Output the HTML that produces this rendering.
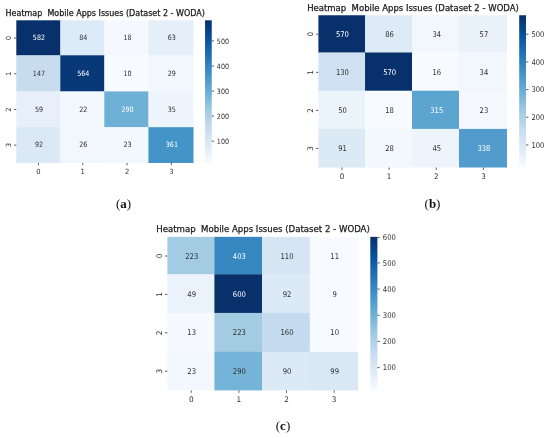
<!DOCTYPE html>
<html lang="en">
<head>
<meta charset="utf-8">
<title>Heatmap Mobile Apps Issues (Dataset 2 - WODA)</title>
<style>
html,body{margin:0;padding:0;background:#fff;}
#fig{position:relative;width:550px;height:438px;overflow:hidden;background:#fff;}
svg{position:absolute;left:0;top:0;}
svg text{font-family:"DejaVu Sans","Liberation Sans",sans-serif;fill:#2e2e2e;}
svg text.title{fill:#1a1a1a;stroke:#1a1a1a;stroke-width:0.25px;}
.tk{stroke:#2e2e2e;stroke-width:0.75;}
.cap{position:absolute;width:40px;height:16px;line-height:16px;text-align:center;font-family:"Liberation Serif","DejaVu Serif",serif;font-size:13px;color:#111;}
</style>
</head>
<body>
<div id="fig">
<svg width="550" height="438" viewBox="0 0 550 438">
<defs>
<linearGradient id="ga" x1="0" y1="0" x2="0" y2="1"><stop offset="0.00%" stop-color="#08306b"/><stop offset="4.17%" stop-color="#083a7a"/><stop offset="8.33%" stop-color="#08468b"/><stop offset="12.50%" stop-color="#08509b"/><stop offset="16.67%" stop-color="#105ba4"/><stop offset="20.83%" stop-color="#1966ad"/><stop offset="25.00%" stop-color="#2070b4"/><stop offset="29.17%" stop-color="#2c7cba"/><stop offset="33.33%" stop-color="#3787c0"/><stop offset="37.50%" stop-color="#4191c6"/><stop offset="41.67%" stop-color="#4f9bcb"/><stop offset="45.83%" stop-color="#5da5d1"/><stop offset="50.00%" stop-color="#6aaed6"/><stop offset="54.17%" stop-color="#7cb7da"/><stop offset="58.33%" stop-color="#8dc1dd"/><stop offset="62.50%" stop-color="#9dcae1"/><stop offset="66.67%" stop-color="#abd0e6"/><stop offset="70.83%" stop-color="#b9d6ea"/><stop offset="75.00%" stop-color="#c6dbef"/><stop offset="79.17%" stop-color="#cee0f2"/><stop offset="83.33%" stop-color="#d6e6f4"/><stop offset="87.50%" stop-color="#deebf7"/><stop offset="91.67%" stop-color="#e7f0fa"/><stop offset="95.83%" stop-color="#eff6fc"/><stop offset="100.00%" stop-color="#f7fbff"/></linearGradient>
<linearGradient id="gb" x1="0" y1="0" x2="0" y2="1"><stop offset="0.00%" stop-color="#08306b"/><stop offset="4.17%" stop-color="#083a7a"/><stop offset="8.33%" stop-color="#08468b"/><stop offset="12.50%" stop-color="#08509b"/><stop offset="16.67%" stop-color="#105ba4"/><stop offset="20.83%" stop-color="#1966ad"/><stop offset="25.00%" stop-color="#2070b4"/><stop offset="29.17%" stop-color="#2c7cba"/><stop offset="33.33%" stop-color="#3787c0"/><stop offset="37.50%" stop-color="#4191c6"/><stop offset="41.67%" stop-color="#4f9bcb"/><stop offset="45.83%" stop-color="#5da5d1"/><stop offset="50.00%" stop-color="#6aaed6"/><stop offset="54.17%" stop-color="#7cb7da"/><stop offset="58.33%" stop-color="#8dc1dd"/><stop offset="62.50%" stop-color="#9dcae1"/><stop offset="66.67%" stop-color="#abd0e6"/><stop offset="70.83%" stop-color="#b9d6ea"/><stop offset="75.00%" stop-color="#c6dbef"/><stop offset="79.17%" stop-color="#cee0f2"/><stop offset="83.33%" stop-color="#d6e6f4"/><stop offset="87.50%" stop-color="#deebf7"/><stop offset="91.67%" stop-color="#e7f0fa"/><stop offset="95.83%" stop-color="#eff6fc"/><stop offset="100.00%" stop-color="#f7fbff"/></linearGradient>
<linearGradient id="gc" x1="0" y1="0" x2="0" y2="1"><stop offset="0.00%" stop-color="#08306b"/><stop offset="4.17%" stop-color="#083a7a"/><stop offset="8.33%" stop-color="#08468b"/><stop offset="12.50%" stop-color="#08509b"/><stop offset="16.67%" stop-color="#105ba4"/><stop offset="20.83%" stop-color="#1966ad"/><stop offset="25.00%" stop-color="#2070b4"/><stop offset="29.17%" stop-color="#2c7cba"/><stop offset="33.33%" stop-color="#3787c0"/><stop offset="37.50%" stop-color="#4191c6"/><stop offset="41.67%" stop-color="#4f9bcb"/><stop offset="45.83%" stop-color="#5da5d1"/><stop offset="50.00%" stop-color="#6aaed6"/><stop offset="54.17%" stop-color="#7cb7da"/><stop offset="58.33%" stop-color="#8dc1dd"/><stop offset="62.50%" stop-color="#9dcae1"/><stop offset="66.67%" stop-color="#abd0e6"/><stop offset="70.83%" stop-color="#b9d6ea"/><stop offset="75.00%" stop-color="#c6dbef"/><stop offset="79.17%" stop-color="#cee0f2"/><stop offset="83.33%" stop-color="#d6e6f4"/><stop offset="87.50%" stop-color="#deebf7"/><stop offset="91.67%" stop-color="#e7f0fa"/><stop offset="95.83%" stop-color="#eff6fc"/><stop offset="100.00%" stop-color="#f7fbff"/></linearGradient>
</defs>
<g class="panel" id="panel-a">
<text class="title" transform="translate(105.20,16.40) scale(1.000,1)" font-size="8.00" text-anchor="middle" xml:space="preserve">Heatmap  Mobile Apps Issues (Dataset 2 - WODA)</text>
<rect x="16.30" y="20.30" width="44.30" height="35.30" fill="#08306b"/>
<rect x="60.30" y="20.30" width="44.30" height="35.30" fill="#ddeaf7"/>
<rect x="104.30" y="20.30" width="44.40" height="35.30" fill="#f5f9fe"/>
<rect x="148.40" y="20.30" width="45.10" height="35.30" fill="#e5eff9"/>
<rect x="16.30" y="55.30" width="44.30" height="36.40" fill="#c8dcf0"/>
<rect x="60.30" y="55.30" width="44.30" height="36.40" fill="#083877"/>
<rect x="104.30" y="55.30" width="44.40" height="36.40" fill="#f7fbff"/>
<rect x="148.40" y="55.30" width="45.10" height="36.40" fill="#f1f7fd"/>
<rect x="16.30" y="91.40" width="44.30" height="36.05" fill="#e7f0fa"/>
<rect x="60.30" y="91.40" width="44.30" height="36.05" fill="#f3f8fe"/>
<rect x="104.30" y="91.40" width="44.40" height="36.05" fill="#6fb0d7"/>
<rect x="148.40" y="91.40" width="45.10" height="36.05" fill="#eef5fc"/>
<rect x="16.30" y="127.15" width="44.30" height="35.85" fill="#dbe9f6"/>
<rect x="60.30" y="127.15" width="44.30" height="35.85" fill="#f2f7fd"/>
<rect x="104.30" y="127.15" width="44.40" height="35.85" fill="#f3f8fe"/>
<rect x="148.40" y="127.15" width="45.10" height="35.85" fill="#4594c7"/>
<text transform="translate(38.95,40.42) scale(0.8696,1)" font-size="7.36" text-anchor="middle" style="fill:#ffffff">582</text>
<text transform="translate(83.25,40.42) scale(0.8696,1)" font-size="7.36" text-anchor="middle" style="fill:#2e2e2e">84</text>
<text transform="translate(127.55,40.42) scale(0.8696,1)" font-size="7.36" text-anchor="middle" style="fill:#2e2e2e">18</text>
<text transform="translate(171.85,40.42) scale(0.8696,1)" font-size="7.36" text-anchor="middle" style="fill:#2e2e2e">63</text>
<text transform="translate(38.95,76.10) scale(0.8696,1)" font-size="7.36" text-anchor="middle" style="fill:#2e2e2e">147</text>
<text transform="translate(83.25,76.10) scale(0.8696,1)" font-size="7.36" text-anchor="middle" style="fill:#ffffff">564</text>
<text transform="translate(127.55,76.10) scale(0.8696,1)" font-size="7.36" text-anchor="middle" style="fill:#2e2e2e">10</text>
<text transform="translate(171.85,76.10) scale(0.8696,1)" font-size="7.36" text-anchor="middle" style="fill:#2e2e2e">29</text>
<text transform="translate(38.95,111.77) scale(0.8696,1)" font-size="7.36" text-anchor="middle" style="fill:#2e2e2e">59</text>
<text transform="translate(83.25,111.77) scale(0.8696,1)" font-size="7.36" text-anchor="middle" style="fill:#2e2e2e">22</text>
<text transform="translate(127.55,111.77) scale(0.8696,1)" font-size="7.36" text-anchor="middle" style="fill:#ffffff">290</text>
<text transform="translate(171.85,111.77) scale(0.8696,1)" font-size="7.36" text-anchor="middle" style="fill:#2e2e2e">35</text>
<text transform="translate(38.95,147.45) scale(0.8696,1)" font-size="7.36" text-anchor="middle" style="fill:#2e2e2e">92</text>
<text transform="translate(83.25,147.45) scale(0.8696,1)" font-size="7.36" text-anchor="middle" style="fill:#2e2e2e">26</text>
<text transform="translate(127.55,147.45) scale(0.8696,1)" font-size="7.36" text-anchor="middle" style="fill:#2e2e2e">23</text>
<text transform="translate(171.85,147.45) scale(0.8696,1)" font-size="7.36" text-anchor="middle" style="fill:#ffffff">361</text>
<line x1="38.45" x2="38.45" y1="163.00" y2="165.30" class="tk"/>
<text transform="translate(38.45,173.75) scale(0.95,1)" font-size="7.17" text-anchor="middle">0</text>
<line x1="82.75" x2="82.75" y1="163.00" y2="165.30" class="tk"/>
<text transform="translate(82.75,173.75) scale(0.95,1)" font-size="7.17" text-anchor="middle">1</text>
<line x1="127.05" x2="127.05" y1="163.00" y2="165.30" class="tk"/>
<text transform="translate(127.05,173.75) scale(0.95,1)" font-size="7.17" text-anchor="middle">2</text>
<line x1="171.35" x2="171.35" y1="163.00" y2="165.30" class="tk"/>
<text transform="translate(171.35,173.75) scale(0.95,1)" font-size="7.17" text-anchor="middle">3</text>
<line x1="14.00" x2="16.30" y1="38.14" y2="38.14" class="tk"/>
<text transform="translate(10.99,38.14) rotate(-90) scale(0.95,1)" font-size="7.17" text-anchor="middle">0</text>
<line x1="14.00" x2="16.30" y1="73.81" y2="73.81" class="tk"/>
<text transform="translate(10.99,73.81) rotate(-90) scale(0.95,1)" font-size="7.17" text-anchor="middle">1</text>
<line x1="14.00" x2="16.30" y1="109.49" y2="109.49" class="tk"/>
<text transform="translate(10.99,109.49) rotate(-90) scale(0.95,1)" font-size="7.17" text-anchor="middle">2</text>
<line x1="14.00" x2="16.30" y1="145.16" y2="145.16" class="tk"/>
<text transform="translate(10.99,145.16) rotate(-90) scale(0.95,1)" font-size="7.17" text-anchor="middle">3</text>
<rect x="205.05" y="20.30" width="6.70" height="142.70" fill="url(#ga)"/>
<line x1="211.75" x2="214.05" y1="141.20" y2="141.20" class="tk"/>
<text transform="translate(216.85,143.89) scale(0.8696,1)" font-size="7.36">100</text>
<line x1="211.75" x2="214.05" y1="116.12" y2="116.12" class="tk"/>
<text transform="translate(216.85,118.81) scale(0.8696,1)" font-size="7.36">200</text>
<line x1="211.75" x2="214.05" y1="91.05" y2="91.05" class="tk"/>
<text transform="translate(216.85,93.74) scale(0.8696,1)" font-size="7.36">300</text>
<line x1="211.75" x2="214.05" y1="65.97" y2="65.97" class="tk"/>
<text transform="translate(216.85,68.66) scale(0.8696,1)" font-size="7.36">400</text>
<line x1="211.75" x2="214.05" y1="40.90" y2="40.90" class="tk"/>
<text transform="translate(216.85,43.59) scale(0.8696,1)" font-size="7.36">500</text>
</g>
<g class="panel" id="panel-b">
<text class="title" transform="translate(413.00,11.11) scale(1.000,1)" font-size="8.50" text-anchor="middle" xml:space="preserve">Heatmap  Mobile Apps Issues (Dataset 2 - WODA)</text>
<rect x="318.40" y="15.25" width="46.95" height="37.55" fill="#08306b"/>
<rect x="365.05" y="15.25" width="47.25" height="37.55" fill="#deebf7"/>
<rect x="412.00" y="15.25" width="47.30" height="37.55" fill="#f1f7fd"/>
<rect x="459.00" y="15.25" width="48.00" height="37.55" fill="#e9f2fa"/>
<rect x="318.40" y="52.50" width="46.95" height="38.50" fill="#cfe1f2"/>
<rect x="365.05" y="52.50" width="47.25" height="38.50" fill="#08306b"/>
<rect x="412.00" y="52.50" width="47.30" height="38.50" fill="#f7fbff"/>
<rect x="459.00" y="52.50" width="48.00" height="38.50" fill="#f1f7fd"/>
<rect x="318.40" y="90.70" width="46.95" height="38.50" fill="#ebf3fb"/>
<rect x="365.05" y="90.70" width="47.25" height="38.50" fill="#f7fbff"/>
<rect x="412.00" y="90.70" width="47.30" height="38.50" fill="#5da5d1"/>
<rect x="459.00" y="90.70" width="48.00" height="38.50" fill="#f5f9fe"/>
<rect x="318.40" y="128.90" width="46.95" height="38.60" fill="#dceaf6"/>
<rect x="365.05" y="128.90" width="47.25" height="38.60" fill="#f3f8fe"/>
<rect x="412.00" y="128.90" width="47.30" height="38.60" fill="#edf4fc"/>
<rect x="459.00" y="128.90" width="48.00" height="38.60" fill="#519ccc"/>
<text transform="translate(342.47,36.73) scale(0.8696,1)" font-size="7.82" text-anchor="middle" style="fill:#ffffff">570</text>
<text transform="translate(389.62,36.73) scale(0.8696,1)" font-size="7.82" text-anchor="middle" style="fill:#2e2e2e">86</text>
<text transform="translate(436.77,36.73) scale(0.8696,1)" font-size="7.82" text-anchor="middle" style="fill:#2e2e2e">34</text>
<text transform="translate(483.93,36.73) scale(0.8696,1)" font-size="7.82" text-anchor="middle" style="fill:#2e2e2e">57</text>
<text transform="translate(342.47,74.80) scale(0.8696,1)" font-size="7.82" text-anchor="middle" style="fill:#2e2e2e">130</text>
<text transform="translate(389.62,74.80) scale(0.8696,1)" font-size="7.82" text-anchor="middle" style="fill:#ffffff">570</text>
<text transform="translate(436.77,74.80) scale(0.8696,1)" font-size="7.82" text-anchor="middle" style="fill:#2e2e2e">16</text>
<text transform="translate(483.93,74.80) scale(0.8696,1)" font-size="7.82" text-anchor="middle" style="fill:#2e2e2e">34</text>
<text transform="translate(342.47,112.86) scale(0.8696,1)" font-size="7.82" text-anchor="middle" style="fill:#2e2e2e">50</text>
<text transform="translate(389.62,112.86) scale(0.8696,1)" font-size="7.82" text-anchor="middle" style="fill:#2e2e2e">18</text>
<text transform="translate(436.77,112.86) scale(0.8696,1)" font-size="7.82" text-anchor="middle" style="fill:#ffffff">315</text>
<text transform="translate(483.93,112.86) scale(0.8696,1)" font-size="7.82" text-anchor="middle" style="fill:#2e2e2e">23</text>
<text transform="translate(342.47,150.92) scale(0.8696,1)" font-size="7.82" text-anchor="middle" style="fill:#2e2e2e">91</text>
<text transform="translate(389.62,150.92) scale(0.8696,1)" font-size="7.82" text-anchor="middle" style="fill:#2e2e2e">28</text>
<text transform="translate(436.77,150.92) scale(0.8696,1)" font-size="7.82" text-anchor="middle" style="fill:#2e2e2e">45</text>
<text transform="translate(483.93,150.92) scale(0.8696,1)" font-size="7.82" text-anchor="middle" style="fill:#ffffff">338</text>
<line x1="341.97" x2="341.97" y1="167.50" y2="169.94" class="tk"/>
<text transform="translate(341.97,178.87) scale(0.95,1)" font-size="7.61" text-anchor="middle">0</text>
<line x1="389.12" x2="389.12" y1="167.50" y2="169.94" class="tk"/>
<text transform="translate(389.12,178.87) scale(0.95,1)" font-size="7.61" text-anchor="middle">1</text>
<line x1="436.27" x2="436.27" y1="167.50" y2="169.94" class="tk"/>
<text transform="translate(436.27,178.87) scale(0.95,1)" font-size="7.61" text-anchor="middle">2</text>
<line x1="483.43" x2="483.43" y1="167.50" y2="169.94" class="tk"/>
<text transform="translate(483.43,178.87) scale(0.95,1)" font-size="7.61" text-anchor="middle">3</text>
<line x1="315.96" x2="318.40" y1="34.28" y2="34.28" class="tk"/>
<text transform="translate(312.71,34.28) rotate(-90) scale(0.95,1)" font-size="7.61" text-anchor="middle">0</text>
<line x1="315.96" x2="318.40" y1="72.34" y2="72.34" class="tk"/>
<text transform="translate(312.71,72.34) rotate(-90) scale(0.95,1)" font-size="7.61" text-anchor="middle">1</text>
<line x1="315.96" x2="318.40" y1="110.41" y2="110.41" class="tk"/>
<text transform="translate(312.71,110.41) rotate(-90) scale(0.95,1)" font-size="7.61" text-anchor="middle">2</text>
<line x1="315.96" x2="318.40" y1="148.47" y2="148.47" class="tk"/>
<text transform="translate(312.71,148.47) rotate(-90) scale(0.95,1)" font-size="7.61" text-anchor="middle">3</text>
<rect x="519.20" y="15.25" width="6.80" height="152.25" fill="url(#gb)"/>
<line x1="526.00" x2="528.44" y1="144.92" y2="144.92" class="tk"/>
<text transform="translate(531.39,147.77) scale(0.8696,1)" font-size="7.82">100</text>
<line x1="526.00" x2="528.44" y1="117.24" y2="117.24" class="tk"/>
<text transform="translate(531.39,120.09) scale(0.8696,1)" font-size="7.82">200</text>
<line x1="526.00" x2="528.44" y1="89.56" y2="89.56" class="tk"/>
<text transform="translate(531.39,92.41) scale(0.8696,1)" font-size="7.82">300</text>
<line x1="526.00" x2="528.44" y1="61.88" y2="61.88" class="tk"/>
<text transform="translate(531.39,64.73) scale(0.8696,1)" font-size="7.82">400</text>
<line x1="526.00" x2="528.44" y1="34.20" y2="34.20" class="tk"/>
<text transform="translate(531.39,37.05) scale(0.8696,1)" font-size="7.82">500</text>
</g>
<g class="panel" id="panel-c">
<text class="title" transform="translate(263.00,232.46) scale(1.000,1)" font-size="8.59" text-anchor="middle" xml:space="preserve">Heatmap  Mobile Apps Issues (Dataset 2 - WODA)</text>
<rect x="167.40" y="236.85" width="47.30" height="37.75" fill="#a3cce3"/>
<rect x="214.40" y="236.85" width="47.90" height="37.75" fill="#3787c0"/>
<rect x="262.00" y="236.85" width="48.10" height="37.75" fill="#d6e5f4"/>
<rect x="309.80" y="236.85" width="48.20" height="37.75" fill="#f7fbff"/>
<rect x="167.40" y="274.30" width="47.30" height="38.90" fill="#eaf2fb"/>
<rect x="214.40" y="274.30" width="47.90" height="38.90" fill="#08306b"/>
<rect x="262.00" y="274.30" width="48.10" height="38.90" fill="#dce9f6"/>
<rect x="309.80" y="274.30" width="48.20" height="38.90" fill="#f7fbff"/>
<rect x="167.40" y="312.90" width="47.30" height="39.20" fill="#f6faff"/>
<rect x="214.40" y="312.90" width="47.90" height="39.20" fill="#a3cce3"/>
<rect x="262.00" y="312.90" width="48.10" height="39.20" fill="#c4daee"/>
<rect x="309.80" y="312.90" width="48.20" height="39.20" fill="#f7fbff"/>
<rect x="167.40" y="351.80" width="47.30" height="38.60" fill="#f2f8fd"/>
<rect x="214.40" y="351.80" width="47.90" height="38.60" fill="#75b4d8"/>
<rect x="262.00" y="351.80" width="48.10" height="38.60" fill="#dce9f6"/>
<rect x="309.80" y="351.80" width="48.20" height="38.60" fill="#d9e8f5"/>
<text transform="translate(191.72,258.53) scale(0.8696,1)" font-size="7.90" text-anchor="middle" style="fill:#2e2e2e">223</text>
<text transform="translate(239.38,258.53) scale(0.8696,1)" font-size="7.90" text-anchor="middle" style="fill:#ffffff">403</text>
<text transform="translate(287.02,258.53) scale(0.8696,1)" font-size="7.90" text-anchor="middle" style="fill:#2e2e2e">110</text>
<text transform="translate(334.68,258.53) scale(0.8696,1)" font-size="7.90" text-anchor="middle" style="fill:#2e2e2e">11</text>
<text transform="translate(191.72,296.92) scale(0.8696,1)" font-size="7.90" text-anchor="middle" style="fill:#2e2e2e">49</text>
<text transform="translate(239.38,296.92) scale(0.8696,1)" font-size="7.90" text-anchor="middle" style="fill:#ffffff">600</text>
<text transform="translate(287.02,296.92) scale(0.8696,1)" font-size="7.90" text-anchor="middle" style="fill:#2e2e2e">92</text>
<text transform="translate(334.68,296.92) scale(0.8696,1)" font-size="7.90" text-anchor="middle" style="fill:#2e2e2e">9</text>
<text transform="translate(191.72,335.30) scale(0.8696,1)" font-size="7.90" text-anchor="middle" style="fill:#2e2e2e">13</text>
<text transform="translate(239.38,335.30) scale(0.8696,1)" font-size="7.90" text-anchor="middle" style="fill:#2e2e2e">223</text>
<text transform="translate(287.02,335.30) scale(0.8696,1)" font-size="7.90" text-anchor="middle" style="fill:#2e2e2e">160</text>
<text transform="translate(334.68,335.30) scale(0.8696,1)" font-size="7.90" text-anchor="middle" style="fill:#2e2e2e">10</text>
<text transform="translate(191.72,373.69) scale(0.8696,1)" font-size="7.90" text-anchor="middle" style="fill:#2e2e2e">23</text>
<text transform="translate(239.38,373.69) scale(0.8696,1)" font-size="7.90" text-anchor="middle" style="fill:#2e2e2e">290</text>
<text transform="translate(287.02,373.69) scale(0.8696,1)" font-size="7.90" text-anchor="middle" style="fill:#2e2e2e">90</text>
<text transform="translate(334.68,373.69) scale(0.8696,1)" font-size="7.90" text-anchor="middle" style="fill:#2e2e2e">99</text>
<line x1="191.22" x2="191.22" y1="390.40" y2="392.87" class="tk"/>
<text transform="translate(191.22,401.89) scale(0.95,1)" font-size="7.70" text-anchor="middle">0</text>
<line x1="238.88" x2="238.88" y1="390.40" y2="392.87" class="tk"/>
<text transform="translate(238.88,401.89) scale(0.95,1)" font-size="7.70" text-anchor="middle">1</text>
<line x1="286.52" x2="286.52" y1="390.40" y2="392.87" class="tk"/>
<text transform="translate(286.52,401.89) scale(0.95,1)" font-size="7.70" text-anchor="middle">2</text>
<line x1="334.18" x2="334.18" y1="390.40" y2="392.87" class="tk"/>
<text transform="translate(334.18,401.89) scale(0.95,1)" font-size="7.70" text-anchor="middle">3</text>
<line x1="164.93" x2="167.40" y1="256.04" y2="256.04" class="tk"/>
<text transform="translate(161.64,256.04) rotate(-90) scale(0.95,1)" font-size="7.70" text-anchor="middle">0</text>
<line x1="164.93" x2="167.40" y1="294.43" y2="294.43" class="tk"/>
<text transform="translate(161.64,294.43) rotate(-90) scale(0.95,1)" font-size="7.70" text-anchor="middle">1</text>
<line x1="164.93" x2="167.40" y1="332.82" y2="332.82" class="tk"/>
<text transform="translate(161.64,332.82) rotate(-90) scale(0.95,1)" font-size="7.70" text-anchor="middle">2</text>
<line x1="164.93" x2="167.40" y1="371.21" y2="371.21" class="tk"/>
<text transform="translate(161.64,371.21) rotate(-90) scale(0.95,1)" font-size="7.70" text-anchor="middle">3</text>
<rect x="370.30" y="236.85" width="7.10" height="153.55" fill="url(#gc)"/>
<line x1="377.40" x2="379.87" y1="367.60" y2="367.60" class="tk"/>
<text transform="translate(382.84,370.49) scale(0.8696,1)" font-size="7.90">100</text>
<line x1="377.40" x2="379.87" y1="341.42" y2="341.42" class="tk"/>
<text transform="translate(382.84,344.31) scale(0.8696,1)" font-size="7.90">200</text>
<line x1="377.40" x2="379.87" y1="315.24" y2="315.24" class="tk"/>
<text transform="translate(382.84,318.13) scale(0.8696,1)" font-size="7.90">300</text>
<line x1="377.40" x2="379.87" y1="289.06" y2="289.06" class="tk"/>
<text transform="translate(382.84,291.95) scale(0.8696,1)" font-size="7.90">400</text>
<line x1="377.40" x2="379.87" y1="262.88" y2="262.88" class="tk"/>
<text transform="translate(382.84,265.77) scale(0.8696,1)" font-size="7.90">500</text>
<line x1="377.40" x2="379.87" y1="237.55" y2="237.55" class="tk"/>
<text transform="translate(382.84,239.59) scale(0.8696,1)" font-size="7.90">600</text>
</g>
</svg>
<div class="cap" style="left:103.6px;top:195.9px">(<b>a</b>)</div><div class="cap" style="left:412.5px;top:195.9px">(<b>b</b>)</div><div class="cap" style="left:263.0px;top:418.2px">(<b>c</b>)</div>
</div>
</body>
</html>
